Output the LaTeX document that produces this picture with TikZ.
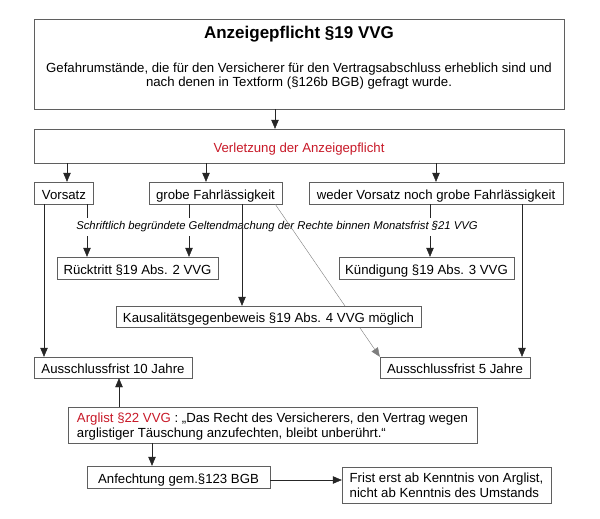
\documentclass[tikz,border=0pt]{standalone}
\usepackage{fontspec}
\setmainfont{Liberation Sans}
\usetikzlibrary{arrows.meta,positioning}
\definecolor{argred}{RGB}{200,25,40}
\definecolor{boxline}{RGB}{95,95,95}
\definecolor{diagline}{RGB}{125,125,125}

\begin{document}
\begin{tikzpicture}[x=1pt, y=-1pt, align=center,
		box/.style={draw=boxline, fill=white, inner sep=0pt, minimum height=22pt, font=\fontsize{13.2}{15}\selectfont},
		onebox/.style={box, text height=12pt, text depth=0pt},
		twobox/.style={box, minimum height=36pt, align=left, text height=25pt, text depth=0pt},
		arr/.style={draw=black!85, -{Triangle[length=9pt,width=7.5pt]}},
	]
	\useasboundingbox (0,0) rectangle (600,519);
	% Kopf
	\node[box, minimum width=530pt, minimum height=90pt] (top) at (299,64) {};
	\node[font=\fontsize{17}{20}\selectfont\bfseries] (title) at (299,34.5) {Anzeigepflicht §19 VVG};
	\node[font=\fontsize{13.2}{14.5}\selectfont] (desc) at (299,76) {Gefahrumstände, die für den Versicherer für den Vertragsabschluss erheblich sind und\\nach denen in Textform (§126b BGB) gefragt wurde.};
	\node[onebox, minimum width=530pt, minimum height=34pt, text=argred] (verl) at (299,146) {Verletzung der Anzeigepflicht};
	% Verschulden
	\node[onebox, minimum width=59pt] (vors) at (64,193) {Vorsatz};
	\node[onebox, minimum width=133pt] (grobe) at (215.5,193) {grobe Fahrlässigkeit};
	\node[onebox, minimum width=254pt] (weder) at (436,193) {weder Vorsatz noch grobe Fahrlässigkeit};
	% Folgen
	\node[onebox, minimum width=161pt] (ruck) at (137.5,268) {Rücktritt §19 Abs. 2 VVG};
	\node[onebox, minimum width=175pt] (kund) at (426.5,268) {Kündigung §19 Abs. 3 VVG};
	\node[onebox, minimum width=158pt, minimum height=21pt] (aus10) at (113,367.5) {Ausschlussfrist 10 Jahre};
	\node[onebox, minimum width=150pt, minimum height=21pt] (aus5) at (455,367.5) {Ausschlussfrist 5 Jahre};
	\node[twobox, minimum width=409pt] (argl) at (272.5,425) {{\color{argred}Arglist §22 VVG} : „Das Recht des Versicherers, den Vertrag wegen\\arglistiger Täuschung anzufechten, bleibt unberührt.“};
	\node[onebox, minimum width=183pt] (anf) at (178.5,477) {Anfechtung gem.§123 BGB};
	\node[twobox, minimum width=209pt] (frist) at (446.5,485) {Frist erst ab Kenntnis von Arglist,\\nicht ab Kenntnis des Umstands};

	\draw[arr] ([xshift=-24pt]top.south) -- ([xshift=-24pt]verl.north);
	\draw[arr] ([xshift=3pt]vors.north |- verl.south) -- ([xshift=3pt]vors.north);
	\draw[arr] ([xshift=-9.5pt]grobe.north |- verl.south) -- ([xshift=-9.5pt]grobe.north);
	\draw[arr] (weder.north |- verl.south) -- (weder.north);
	\draw[arr] ([xshift=-20pt]vors.south) -- ([xshift=-20pt]vors.south |- aus10.north);
	\draw[arr] ([xshift=23pt]vors.south) -- ([xshift=23pt]vors.south |- ruck.north);
	\draw[arr] ([xshift=-26.5pt]grobe.south) -- ([xshift=-26.5pt]grobe.south |- ruck.north);
	\draw[arr] ([xshift=-6pt]weder.south) -- ([xshift=-6pt]weder.south |- kund.north);
	\draw[arr] ([xshift=86pt]weder.south) -- ([xshift=86pt]weder.south |- aus5.north);
	\node[fill=white, inner xsep=1pt, inner ysep=3.5pt, font=\fontsize{11.3}{13}\selectfont\itshape] (frist21) at (277,227) {Schriftlich begründete Geltendmachung der Rechte binnen Monatsfrist §21 VVG};
	\draw[arr, draw=diagline, thin] ([xshift=-7pt]grobe.south east) -- (aus5.north west);
	\node[onebox, minimum width=305pt, minimum height=21pt] (kaus) at (268.5,316.5) {Kausalitätsgegenbeweis §19 Abs. 4 VVG möglich};
	\draw[arr] ([xshift=26.5pt]grobe.south) -- ([xshift=26.5pt]grobe.south |- kaus.north);
	\draw[arr] ([xshift=6pt]aus10.south |- argl.north) -- ([xshift=6pt]aus10.south);
	\draw[arr] ([xshift=-26.5pt]anf.north |- argl.south) -- ([xshift=-26.5pt]anf.north);
	\draw[arr] ([yshift=-3pt]anf.east) -- ([yshift=-3pt]anf.east -| frist.west);

\end{tikzpicture}
\end{document}
